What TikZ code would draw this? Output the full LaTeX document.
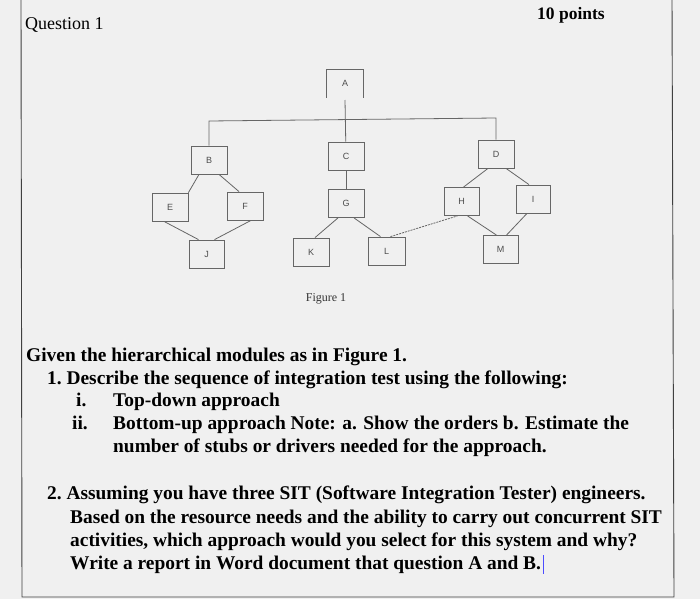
\documentclass[tikz,border=0pt]{standalone}
\usepackage{fontspec}
\setmainfont{Liberation Serif}
\newfontfamily\boxfont{Liberation Sans}
\begin{document}
\begin{tikzpicture}[x=1pt,y=-1pt,
  mod/.style={draw=black!60,line width=0.8pt,minimum width=36pt,minimum height=28pt,inner sep=0pt,font=\boxfont\fontsize{9}{10}\selectfont,text=black!70},
  link/.style={draw=black!60,line width=0.8pt},
  txt/.style={anchor=base west,inner sep=0pt,font=\bfseries\fontsize{19.4}{20}\selectfont}]
\fill[black!6] (0,0) rectangle (700,599);
\useasboundingbox (0,0) rectangle (700,599);
\draw[black!75,line width=0.9pt] (21,0) -- (22,597) -- (674,597) -- (672,0);
\node[anchor=base west,inner sep=0pt,font=\fontsize{18}{20}\selectfont] (q) at (25,30) {Question 1};
\node[anchor=base west,inner sep=0pt,font=\bfseries\fontsize{17.5}{20}\selectfont] (pts) at (537,20) {10 points};
% modules
\node[mod,draw=none] (A) at (345,83.5) {A};
\draw[link] (A.south west) -- (A.north west) -- (A.north east) -- (A.south east);
\node[mod] (B) at (209,160) {B};
\node[mod] (C) at (346,156) {C};
\node[mod] (D) at (496,154) {D};
\node[mod] (E) at (170,207) {E};
\node[mod] (F) at (245,206) {F};
\node[mod] (G) at (346,203.5) {G};
\node[mod,minimum width=35pt] (H) at (461.5,201.5) {H};
\node[mod,minimum width=34pt] (I) at (533,199) {I};
\node[mod,minimum width=35pt] (J) at (206.5,254) {J};
\node[mod] (K) at (311,252) {K};
\node[mod,minimum width=37pt] (L) at (386.5,251) {L};
\node[mod,minimum width=35pt] (M) at (500.5,249.5) {M};
\coordinate (top) at (345,100);
\coordinate (bl) at (209,121);
\coordinate (br) at (496,118);
\draw[link] (top) -- (C);
\draw[link] (B) -- (bl) -- (br) -- (D);
\draw[link] ([xshift=-10pt]B.south) -- (E.north east);
\draw[link] ([xshift=10pt]B.south) -- ([xshift=-6pt]F.north);
\draw[link] ([xshift=-6pt]E.south) -- ([xshift=-8pt]J.north);
\draw[link] ([xshift=6pt]F.south) -- ([xshift=8pt]J.north);
\draw[link] (C) -- (G);
\draw[link] ([xshift=-8pt]G.south) -- ([xshift=4pt]K.north);
\draw[link] ([xshift=8pt]G.south) -- ([xshift=-6pt]L.north);
\draw[link] ([xshift=-8pt]D.south) -- ([xshift=2pt]H.north);
\draw[link] ([xshift=10pt]D.south) -- ([xshift=-4pt]I.north);
\draw[link] ([xshift=6pt]H.south) -- ([xshift=-4pt]M.north);
\draw[link] ([xshift=-6pt]I.south) -- ([xshift=6pt]M.north);
\draw[link,dashed,dash pattern=on 2pt off 1pt] ([xshift=4pt]L.north) -- ([xshift=-4pt]H.south);
\node[inner sep=0pt,font=\fontsize{12}{13}\selectfont,text=black!80] (cap) at (326,299) {Figure 1};
% text
\node[txt] (t1) at (26,361) {Given the hierarchical modules as in Figure 1.};
\node[txt] (t2) at (47,384) {1.\ Describe the sequence of integration test using the following:};
\node[txt] (t3a) at (76,406) {i.};
\node[txt] (t3) at (113,406) {Top-down approach};
\node[txt] (t4a) at (72,429) {ii.};
\node[txt] (t4) at (113,429) {Bottom-up approach Note: a. Show the orders b. Estimate the};
\node[txt] (t5) at (113,452) {number of stubs or drivers needed for the approach.};
\node[txt] (t6) at (47,499) {2.\ Assuming you have three SIT (Software Integration Tester) engineers.};
\node[txt] (t7) at (70,523) {Based on the resource needs and the ability to carry out concurrent SIT};
\node[txt] (t8) at (70,546) {activities, which approach would you select for this system and why?};
\node[txt] (t9) at (70,569) {Write a report in Word document that question A and B.};
\draw[blue!70,line width=1pt] (t9.north east) ++(2,0) -- ++(0,19);
\end{tikzpicture}
\end{document}
